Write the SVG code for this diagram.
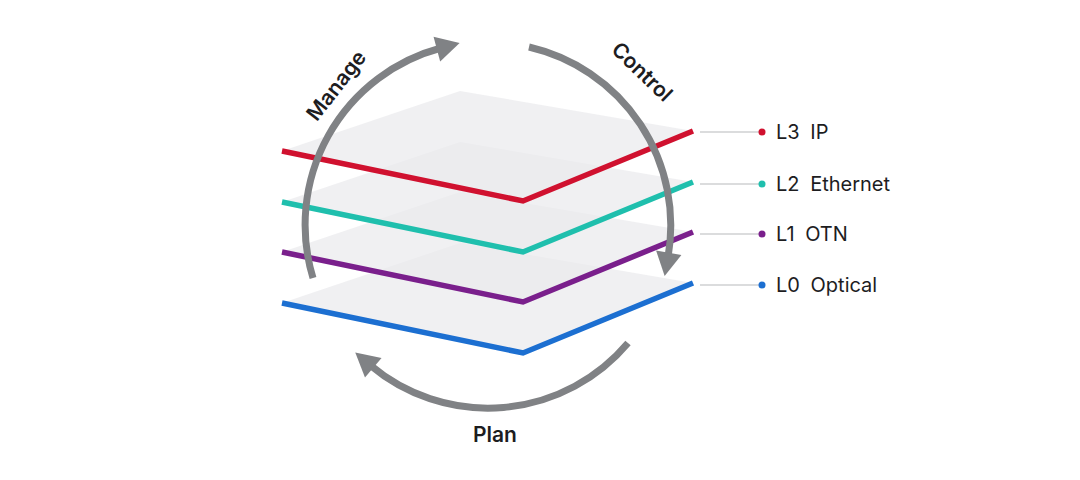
<svg xmlns="http://www.w3.org/2000/svg" width="1080" height="480" viewBox="0 0 1080 480">
<style>
.plate{fill:#e9eaec;fill-opacity:0.7;stroke:none}
.edge{fill:none;stroke-width:5.5;stroke-linejoin:miter}
.arc{fill:none;stroke:#808285;stroke-width:7}
.lead{stroke:#cfd0d2;stroke-width:1.5}
.lbl{font-family:"Inter","Liberation Sans",sans-serif;font-size:20px;fill:#1d1d1f;word-spacing:5px}
.cyc{font-family:"Inter","Liberation Sans",sans-serif;font-size:21px;font-weight:600;fill:#1d1d1f}
</style>
<defs>
<marker id="ah" markerUnits="userSpaceOnUse" markerWidth="30" markerHeight="30" viewBox="-2 -14 26 28" refX="4" refY="0" orient="auto">
<path d="M0,-12 L22,0 L0,12 z" fill="#808285"/>
</marker>
</defs>
<rect width="1080" height="480" fill="#fff"/>
<g id="layer-L0">
<path class="plate" d="M282,303 L460,243 L693,283 L523,353 z"/>
<path class="edge" stroke="#1c6fd1" d="M282,303 L523,353 L693,283"/>
</g>
<g id="layer-L1">
<path class="plate" d="M282,252 L460,192 L693,232 L523,302 z"/>
<path class="edge" stroke="#7a1f8c" d="M282,252 L523,302 L693,232"/>
</g>
<g id="layer-L2">
<path class="plate" d="M282,202 L460,142 L693,182 L523,252 z"/>
<path class="edge" stroke="#1fbfad" d="M282,202 L523,252 L693,182"/>
</g>
<g id="layer-L3">
<path class="plate" d="M282,151 L460,91 L693,131 L523,201 z"/>
<path class="edge" stroke="#d0112f" d="M282,151 L523,201 L693,131"/>
</g>
<g id="connectors">
<path class="arc" marker-end="url(#ah)" d="M313,278 A183,183 0 0 1 441,48"/>
<path class="arc" marker-end="url(#ah)" d="M529,47 A183,183 0 0 1 668,257"/>
<path class="arc" marker-end="url(#ah)" d="M628,343 A183,183 0 0 1 370,365"/>
<line class="lead" x1="700" y1="132" x2="760" y2="132"/>
<line class="lead" x1="700" y1="184" x2="760" y2="184"/>
<line class="lead" x1="700" y1="234" x2="760" y2="234"/>
<line class="lead" x1="700" y1="285" x2="760" y2="285"/>
</g>
<g id="label-L3"><circle cx="762" cy="132" r="3.5" fill="#d0112f"/><text class="lbl" x="776" y="139">L3 IP</text></g>
<g id="label-L2"><circle cx="762" cy="184" r="3.5" fill="#1fbfad"/><text class="lbl" x="776" y="191">L2 Ethernet</text></g>
<g id="label-L1"><circle cx="762" cy="234" r="3.5" fill="#7a1f8c"/><text class="lbl" x="776" y="241">L1 OTN</text></g>
<g id="label-L0"><circle cx="762" cy="285" r="3.5" fill="#1c6fd1"/><text class="lbl" x="776" y="292">L0 Optical</text></g>
<g id="cycle-labels">
<text class="cyc" text-anchor="middle" transform="translate(342,90) rotate(-52)">Manage</text>
<text class="cyc" text-anchor="middle" transform="translate(637,77) rotate(44)">Control</text>
<text class="cyc" text-anchor="middle" x="495" y="442">Plan</text>
</g>
</svg>
